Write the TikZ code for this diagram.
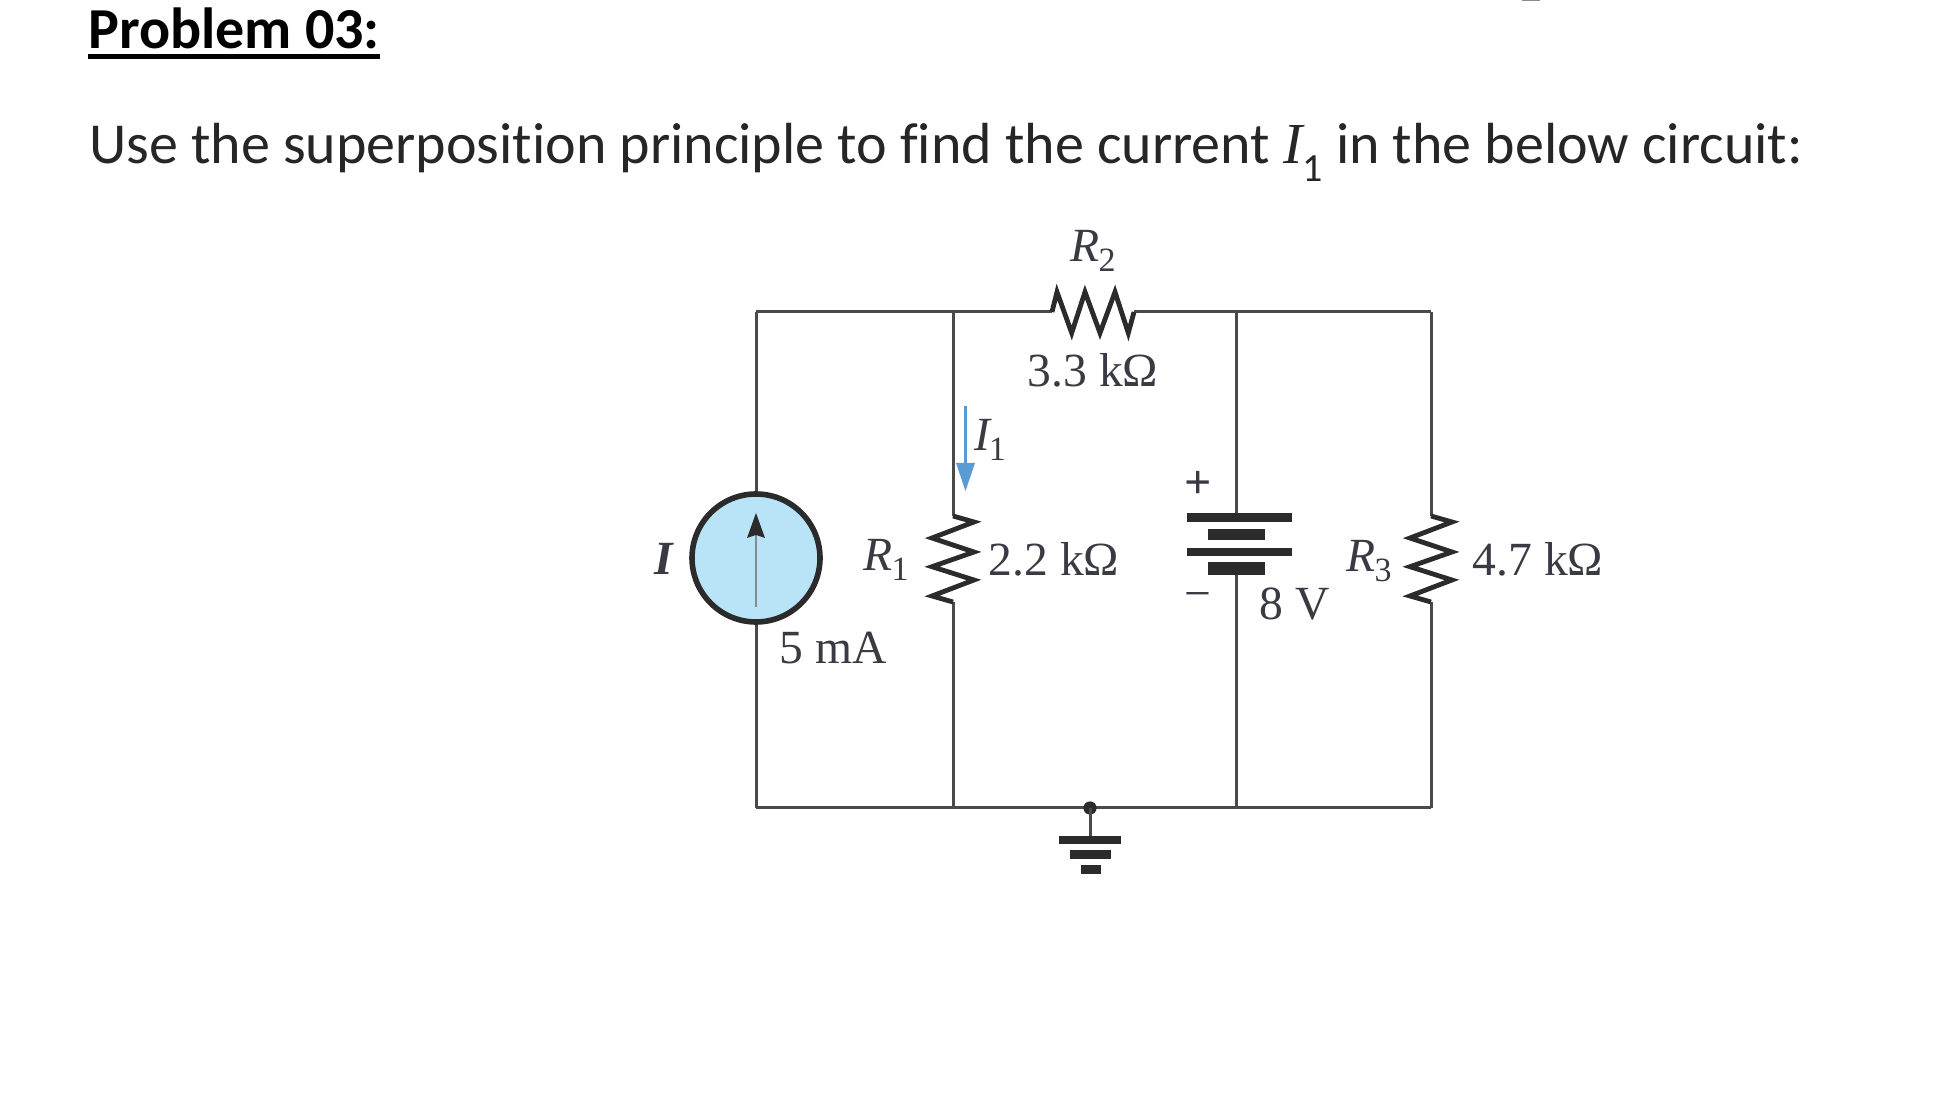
\documentclass[tikz,border=0pt]{standalone}
\usepackage{fontspec}
\setmainfont{Carlito}[Ligatures=NoCommon]
\newfontfamily\circfont{Liberation Serif}
\newcommand{\circsub}[2]{{\itshape #1}\kern-0.5pt\raisebox{-0.22em}{\fontsize{17}{17}\selectfont #2}}
\definecolor{wirecol}{HTML}{4A4A4A}
\definecolor{inkcol}{HTML}{2B2B2B}
\definecolor{labcol}{HTML}{3A3A44}
\definecolor{srcfill}{HTML}{B9E4F8}
\definecolor{curblue}{HTML}{5B9BD5}
\definecolor{arrgrey}{HTML}{8A8A8A}
\tikzset{
  wire/.style={draw=wirecol,line width=1.5pt},
  zigzag/.style={draw=inkcol,line width=2.4pt,line join=miter,miter limit=6},
  plate/.style={fill=inkcol,draw=none},
  circlab/.style={text=labcol,font=\circfont\fontsize{23.8}{26}\selectfont,inner sep=0pt},
  headtext/.style={text=black,inner sep=0pt,anchor=base west},
}
\begin{document}
\begin{tikzpicture}[x=0.5pt,y=-0.5pt]
\path[use as bounding box] (0,0) rectangle (1950,1111);
% texts
\node[headtext,font=\bfseries\fontsize{29}{31}\selectfont] (title) at (88,49) {Problem 03:};
\fill[black] (88,54.5) rectangle (380,59.5);
\node[headtext,text=black!85,font=\fontsize{29}{31}\selectfont] (prob) at (89,164) {Use the superposition principle to find the current {\circfont\itshape I}\raisebox{-0.3em}{\fontsize{20}{22}\selectfont 1} in the below circuit:};
% junctions
\coordinate (tl) at (756,312);
\coordinate (t2) at (953,312);
\coordinate (t3) at (1236,312);
\coordinate (tr) at (1431,312);
\coordinate (bl) at (756,808);
\coordinate (b2) at (953,808);
\coordinate (b3) at (1236,808);
\coordinate (br) at (1431,808);
\coordinate (gnd) at (1090,808);
% source
\node[circle,draw=inkcol,line width=2.8pt,fill=srcfill,minimum size=64pt,inner sep=0pt] (src) at (756,558) {};
\draw[wire] (tl) -- (src.north);
\draw[wire] (src.south) -- (bl);
\coordinate (arrA) at (756,607);
\coordinate (arrB) at (756,535);
\draw[draw=arrgrey,line width=1.4pt] (arrA) -- (arrB);
\fill[inkcol] (756,513) -- (765,538) -- (756,535) -- (747,538) -- cycle;
% top and bottom wires
\draw[wire] (tl) -- (t2) -- (1052,312);
\draw[wire] (1134,312) -- (t3) -- (tr);
\draw[wire] (bl) -- (b2) -- (gnd) -- (b3) -- (br);
% R2
\draw[zigzag] (1052,312) -- (1057,292) -- (1071.7,333) -- (1085,292) -- (1100,333) -- (1115,292) -- (1128.3,333) -- (1134,312);
% R1
\draw[wire] (t2) -- (953,516);
\draw[wire] (953,602) -- (b2);
\draw[zigzag] (953,516) -- (974,522) -- (932,538) -- (974,552) -- (932,566.7) -- (974,580) -- (932,596) -- (953,602);
% R3
\draw[wire] (tr) -- (1431,516);
\draw[wire] (1431,602) -- (br);
\draw[zigzag] (1431,516) -- (1452,522) -- (1410,538) -- (1452,552) -- (1410,566.7) -- (1452,580) -- (1410,596) -- (1431,602);
% battery
\draw[wire] (t3) -- (1236,513);
\draw[wire] (1236,575) -- (b3);
\fill[plate] (1186.7,512.7) rectangle (1292.3,521.7);
\fill[plate] (1208.3,529) rectangle (1265,540);
\fill[plate] (1186.7,547.7) rectangle (1292.3,556);
\fill[plate] (1208.3,561.7) rectangle (1265,575);
% ground
\fill[inkcol] (gnd) circle (3.3pt);
\draw[wire] (gnd) -- (1090,838);
\fill[plate] (1059.3,835.7) rectangle (1121,844);
\fill[plate] (1070,850) rectangle (1110.7,858.7);
\fill[plate] (1081,865.3) rectangle (1100.7,874);
% current arrow
\coordinate (curA) at (965.5,406);
\coordinate (curB) at (965.5,470);
\draw[draw=curblue,line width=1.7pt] (curA) -- (curB);
\fill[curblue] (956,463) -- (975,463) -- (965.5,491) -- cycle;
% labels
\node[circlab] (lI1) at (990,440) {\circsub{I}{1}};
\node[circlab] (lR2) at (1093,251) {\circsub{R}{2}};
\node[circlab] (l33) at (1093,370) {3.3 kΩ};
\node[circlab] (lI) at (664,559) {\itshape\bfseries I};
\node[circlab] (lR1) at (886,560) {\circsub{R}{1}};
\node[circlab] (l22) at (1054,559) {2.2 kΩ};
\node[circlab] (l5) at (833,648) {5 mA};
\node[circlab] (lR3) at (1369,561) {\circsub{R}{3}};
\node[circlab] (l47) at (1538,559) {4.7 kΩ};
\node[circlab] (l8) at (1295,604) {8 V};
\node[circlab,font=\circfont\bfseries\fontsize{24}{26}\selectfont] (lplus) at (1198,485) {+};
\node[circlab] (lminus) at (1198,601) {−};
\fill[black!45] (1522,0) rectangle (1540,1);
\end{tikzpicture}
\end{document}
